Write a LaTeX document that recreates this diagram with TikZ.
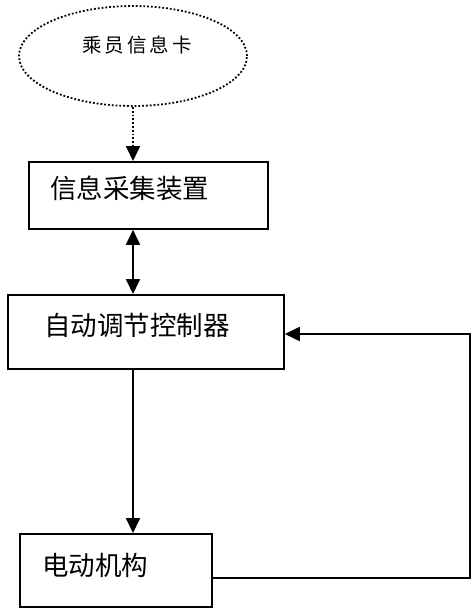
\documentclass[tikz,border=0pt]{standalone}
\usepackage{fontspec}
\setmainfont{Noto Sans CJK SC}
\usetikzlibrary{arrows.meta,shapes.geometric}
\begin{document}
\begin{tikzpicture}[x=1pt,y=-1pt,
  boxst/.style={draw,line width=1.8pt,rectangle,inner sep=0pt,anchor=north west},
  lbl/.style={anchor=west,inner sep=0pt,font=\fontsize{26.5}{26.5}\selectfont\addfontfeature{Weight=Light}},
  arr/.style={line width=1.8pt,-{Triangle[width=14pt,length=15pt]}},
  darr/.style={line width=1.8pt,{Triangle[width=14pt,length=15pt]}-{Triangle[width=14pt,length=15pt]}}]
\useasboundingbox (0,0) rectangle (474,610);
\node[draw,ellipse,dotted,line width=1.8pt,minimum width=228pt,minimum height=100pt,inner sep=0pt] (card) at (133,56) {};
\node[inner sep=0pt,font=\fontsize{19.5}{19.5}\selectfont\addfontfeature{Weight=Light}] (cardt) at (137,45) {乘\hspace{3pt}员\hspace{3pt}信\hspace{3pt}息\hspace{3pt}卡};
\node[boxst,minimum width=239pt,minimum height=67pt] (b1) at (28,161) {};
\node[lbl] (b1t) at (50,188) {信息采集装置};
\node[boxst,minimum width=276pt,minimum height=74pt] (b2) at (7,294) {};
\node[lbl] (b2t) at (44,325) {自动调节控制器};
\node[boxst,minimum width=192pt,minimum height=73pt] (b3) at (19,533) {};
\node[lbl] (b3t) at (42,565) {电动机构};
\coordinate (c1) at (470,578);
\coordinate (c2) at (470,334);
\draw[arr,dotted] (card.south) -- (b1.north west -| card.south);
\draw[darr] (b1.south west -| card.south) -- (b2.north west -| card.south);
\draw[arr] (b2.south west -| card.south) -- (b3.north west -| card.south);
\draw[arr] (b3.east |- c1) -- (c1) -- (c2) -- (b2.east |- c2);
\end{tikzpicture}
\end{document}
